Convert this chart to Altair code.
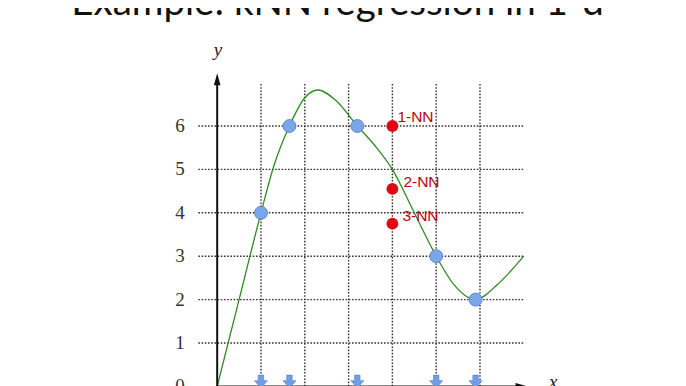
import altair as alt
import pandas as pd

title_text = "Example: kNN regression in 1-d"

# training points (blue) and the query predictions (red)
train_x = [1.0, 1.65, 3.2, 5.0, 5.9]
train_y = [4.0, 6.0, 6.0, 3.0, 2.0]
query_x = [4.0, 4.0, 4.0]
pred_y = [6.0, 4.55, 3.75]
pred_labels = ["1-NN", "2-NN", "3-NN"]

# true function (green curve)
curve_x = [0.0, 0.5, 1.0, 1.3, 1.65, 2.0, 2.3, 2.7, 3.2, 3.6, 4.0, 4.5, 5.0, 5.4, 5.9, 6.4, 7.0]
curve_y = [0.0, 2.0, 4.0, 5.1, 6.0, 6.65, 6.83, 6.6, 6.0, 5.55, 5.0, 4.0, 3.0, 2.35, 2.0, 2.35, 3.0]

y_ticks = [0, 1, 2, 3, 4, 5, 6]
grid_x = [1, 2, 3, 4, 5, 6]
grid_y = [1, 2, 3, 4, 5, 6]

xs = alt.Scale(domain=[-4.776, 10.521], nice=False, zero=False)
ys = alt.Scale(domain=[0.009, 8.719], nice=False, zero=False)

def X(field="x"):
    return alt.X(f"{field}:Q", scale=xs, axis=None)

def Y(field="y"):
    return alt.Y(f"{field}:Q", scale=ys, axis=None)

train_df = pd.DataFrame({"x": train_x, "y": train_y})
pred_df = pd.DataFrame({"x": query_x, "y": pred_y, "label": pred_labels})
curve_df = pd.DataFrame({"x": curve_x, "y": curve_y})
tick_df = pd.DataFrame({"y": y_ticks, "x": [-0.85] * len(y_ticks), "t": [str(v) for v in y_ticks]})
gx_df = pd.DataFrame({"x": grid_x, "y": [0.0] * len(grid_x), "y2": [7.0] * len(grid_x)})
gy_df = pd.DataFrame({"y": grid_y, "x": [-0.43] * len(grid_y), "x2": [7.0] * len(grid_y)})

hgrid = alt.Chart(gy_df).mark_rule(color="#333333", strokeWidth=1.4, strokeDash=[1.6, 1.6]).encode(
    x=X(), x2="x2:Q", y=Y())
vgrid = alt.Chart(gx_df).mark_rule(color="#333333", strokeWidth=1.4, strokeDash=[1.6, 1.6]).encode(
    x=X(), y=Y(), y2="y2:Q")

axes_df = pd.DataFrame({"x": [0.0], "y": [0.0], "y2": [7.0], "x2": [6.9]})
yaxis = alt.Chart(axes_df).mark_rule(color="#111111", strokeWidth=2).encode(x=X(), y=Y(), y2="y2:Q")
xaxis = alt.Chart(axes_df).mark_rule(color="#111111", strokeWidth=2).encode(x=X(), x2="x2:Q", y=Y())

yarrow = alt.Chart(pd.DataFrame({"x": [0.0], "y": [7.08]})).mark_point(
    shape="M0,-1 L0.55,1 L-0.55,1 Z", size=144, filled=True, color="#111111", opacity=1).encode(x=X(), y=Y())
xarrow = alt.Chart(pd.DataFrame({"x": [6.95], "y": [0.0]})).mark_point(
    shape="M1,0 L-1,0.55 L-1,-0.55 Z", size=144, filled=True, color="#111111", opacity=1).encode(x=X(), y=Y())

curve = alt.Chart(curve_df).mark_line(color="#2e8b22", strokeWidth=1.3, interpolate="monotone").encode(
    x=X(), y=Y(), order="x:Q")

arrows = alt.Chart(pd.DataFrame({"x": train_x, "y": [0.11] * len(train_x)})).mark_point(
    shape="M-0.42,-1 L0.42,-1 L0.42,-0.15 L1,-0.15 L0,1 L-1,-0.15 L-0.42,-0.15 Z",
    size=169, filled=True, color="#6f9de6", stroke="#5580c8", strokeWidth=0.6, opacity=1).encode(x=X(), y=Y())

blue = alt.Chart(train_df).mark_circle(size=170, color="#7aa7ea", stroke="#4f7cc4", strokeWidth=0.8, opacity=1).encode(
    x=X(), y=Y())
red = alt.Chart(pred_df).mark_circle(size=140, color="#e30613", opacity=1).encode(x=X(), y=Y())

label_layers = []
for lab, dx, dy in [("1-NN", 5, -9), ("2-NN", 11, -7), ("3-NN", 10, -8)]:
    label_layers.append(
        alt.Chart(pred_df).transform_filter(alt.datum.label == lab).mark_text(
            align="left", baseline="middle", dx=dx, dy=dy, fontSize=15.5,
            font="Liberation Sans", color="#bf0010").encode(x=X(), y=Y(), text="label:N"))

ticks = alt.Chart(tick_df).mark_text(font="Liberation Serif", fontSize=19, color="#333333",
                                     align="center", baseline="middle").encode(x=X(), y=Y(), text="t:N")

axis_labels = pd.DataFrame({"x": [0.02, 7.67], "y": [7.75, 0.1], "t": ["y", "x"]})
ax_lab = alt.Chart(axis_labels).mark_text(font="Liberation Serif", fontStyle="italic", fontSize=19,
                                          color="#222222", align="center", baseline="middle").encode(
    x=X(), y=Y(), text="t:N")

title = alt.Chart(pd.DataFrame({"x": [2.747], "y": [8.558], "t": [title_text]})).mark_text(
    font="Lato", fontSize=38.5, color="#111111", align="center", baseline="alphabetic").encode(
    x=X(), y=Y(), text="t:N")

chart = alt.layer(
    hgrid, vgrid, curve, yaxis, xaxis, yarrow, xarrow, arrows, blue, red, *label_layers, ticks, ax_lab, title
).properties(width=670, height=378, autosize="none", padding=0).configure_view(stroke=None)

chart.save("out.html", embed_options={"renderer": "svg", "actions": False})
